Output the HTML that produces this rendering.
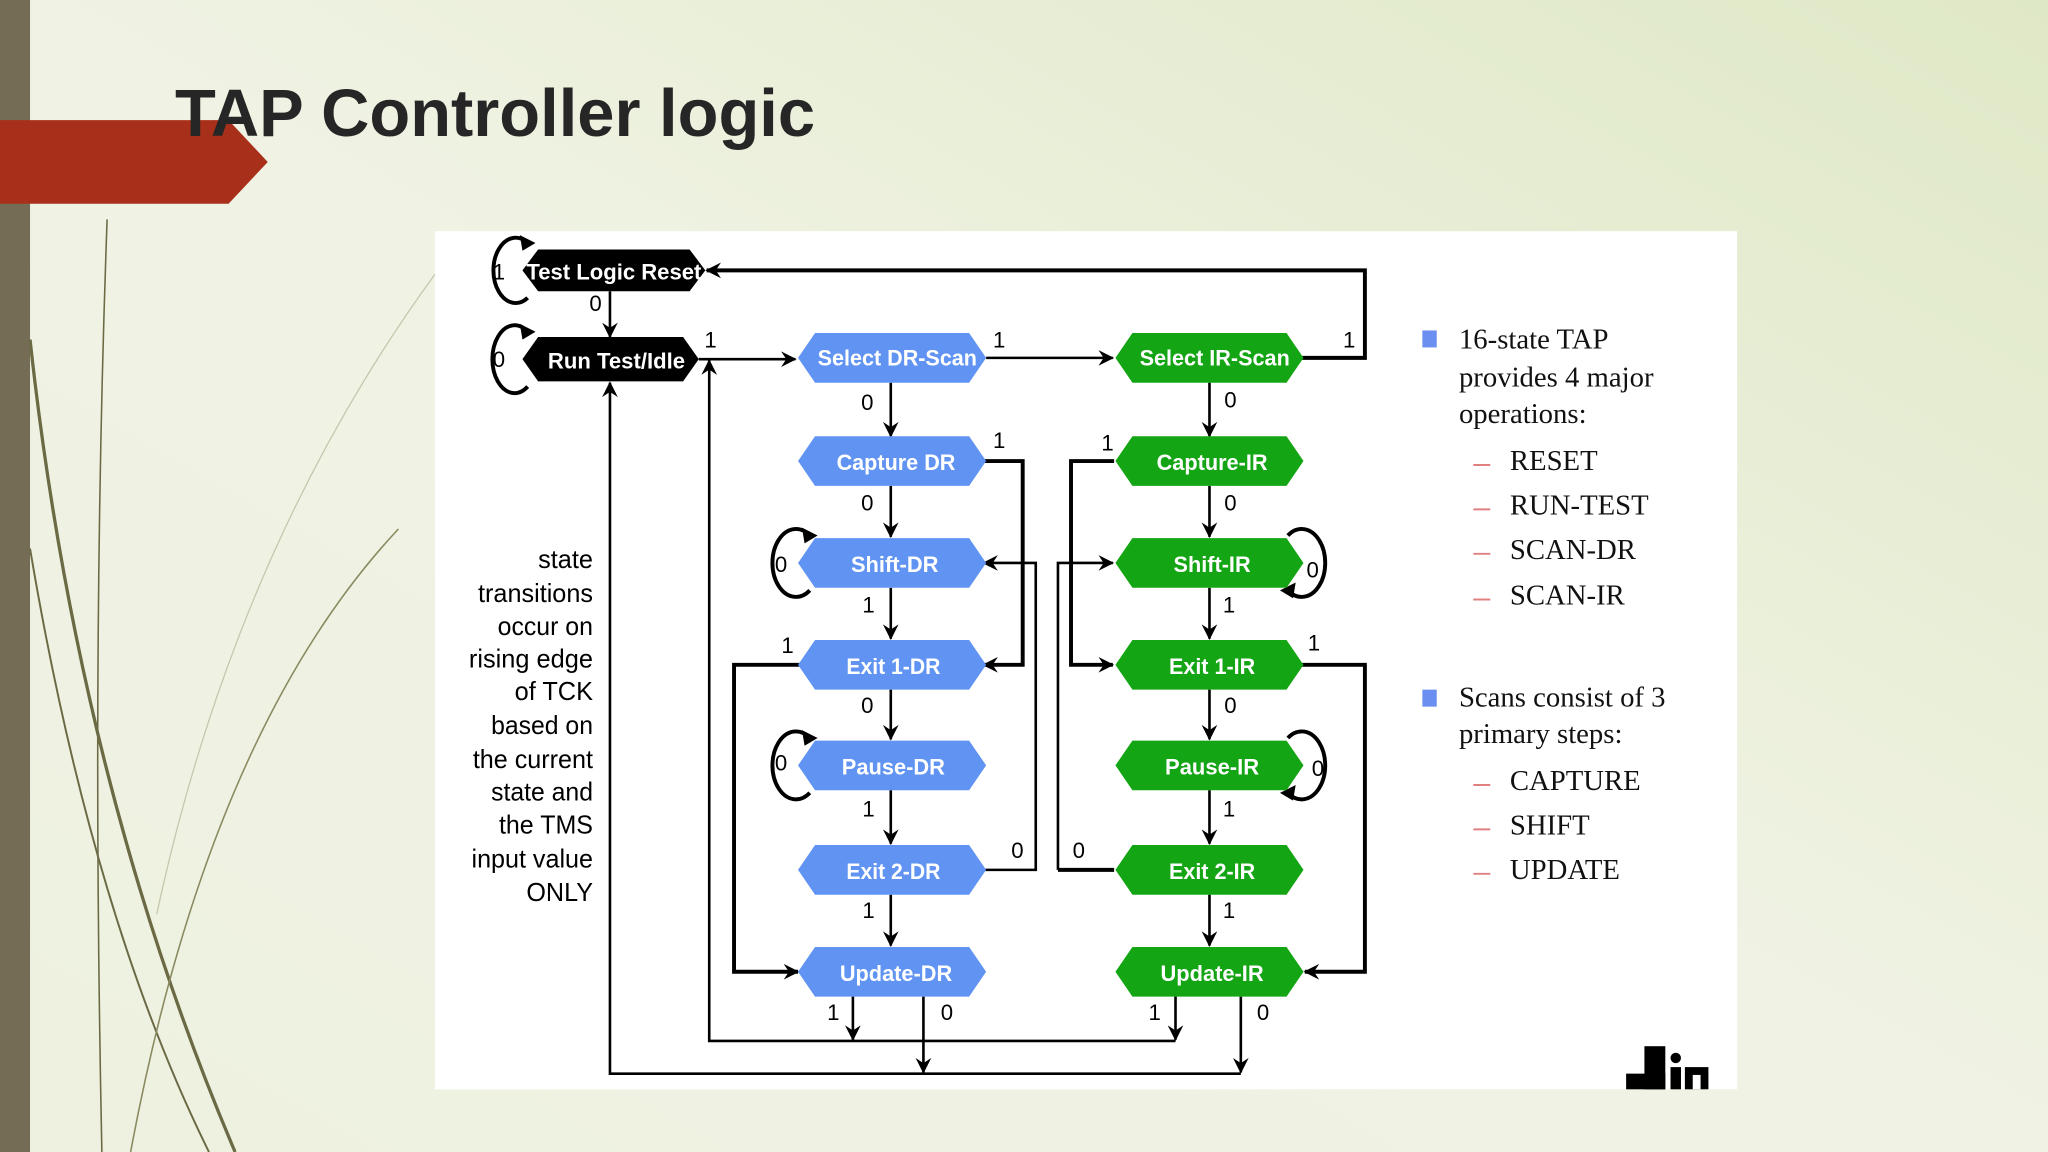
<!DOCTYPE html>
<html><head><meta charset="utf-8"><style>
html,body{margin:0;padding:0;width:2048px;height:1152px;overflow:hidden}
svg{display:block}
.st{font-family:"Liberation Sans",sans-serif;font-weight:bold;fill:#fff;font-size:17px;text-anchor:middle}
.lb{font-family:"Liberation Sans",sans-serif;font-size:17px;fill:#000;text-anchor:middle}
.lt{font-family:"Liberation Sans",sans-serif;font-size:20px;fill:#000;text-anchor:end}
.rt{font-family:"Liberation Serif",serif;font-size:22px;fill:#111}
.ln{stroke:#000;stroke-width:2;fill:none}
.lw{stroke:#000;stroke-width:3;fill:none}
</style></head><body>
<svg width="2048" height="1152" viewBox="0 0 1568 882" xmlns="http://www.w3.org/2000/svg">
<defs>
<linearGradient id="bg" x1="0" y1="1" x2="1" y2="0">
<stop offset="0" stop-color="#eef1e0"/><stop offset="0.5" stop-color="#f0f3e4"/><stop offset="1" stop-color="#dfe8c6"/>
</linearGradient>
<marker id="a" viewBox="0 0 12 12" refX="11" refY="6" markerWidth="12" markerHeight="12" markerUnits="userSpaceOnUse" orient="auto">
<path d="M0,0 L12,6 L0,12 L4,6 Z" fill="#000"/>
</marker>
</defs>
<rect width="1568" height="882" fill="url(#bg)"/>
<rect x="0" y="0" width="23" height="882" fill="#756c55"/>
<g fill="none" stroke="#6b6a45" stroke-width="1.2">
<path d="M82,168 Q70,500 78,882"/>
<path d="M23,260 Q60,600 180,882" stroke-width="2.5"/>
<path d="M23,420 Q70,700 160,882" stroke-width="1.5"/>
<path d="M305,405 Q160,560 100,882" stroke="#8a8a60"/>
<path d="M333,210 Q180,420 120,700" stroke="#c5c8ad" stroke-width="1"/>
</g>
<polygon points="0,92 175,92 205,124 175,156 0,156" fill="#a8301a"/>
<text x="134" y="104" font-family="'Liberation Sans',sans-serif" font-weight="bold" font-size="51" fill="#262626" textLength="490" lengthAdjust="spacingAndGlyphs">TAP Controller logic</text>
<rect x="333" y="177" width="997" height="657" fill="#fff"/>

<g class="ln">
<line x1="467" y1="223" x2="467" y2="258" marker-end="url(#a)"/>
<line x1="535" y1="275" x2="609" y2="275" marker-end="url(#a)"/>
<line x1="755" y1="274" x2="852" y2="274" marker-end="url(#a)"/>
<line x1="682" y1="293" x2="682" y2="334" marker-end="url(#a)"/>
<line x1="682" y1="372" x2="682" y2="411" marker-end="url(#a)"/>
<line x1="682" y1="450" x2="682" y2="489" marker-end="url(#a)"/>
<line x1="682" y1="528" x2="682" y2="566" marker-end="url(#a)"/>
<line x1="682" y1="605" x2="682" y2="646" marker-end="url(#a)"/>
<line x1="682" y1="685" x2="682" y2="724" marker-end="url(#a)"/>
<line x1="926" y1="293" x2="926" y2="334" marker-end="url(#a)"/>
<line x1="926" y1="372" x2="926" y2="411" marker-end="url(#a)"/>
<line x1="926" y1="450" x2="926" y2="489" marker-end="url(#a)"/>
<line x1="926" y1="528" x2="926" y2="566" marker-end="url(#a)"/>
<line x1="926" y1="605" x2="926" y2="646" marker-end="url(#a)"/>
<line x1="926" y1="685" x2="926" y2="724" marker-end="url(#a)"/>
<line x1="653" y1="763" x2="653" y2="796" marker-end="url(#a)"/>
<line x1="707" y1="763" x2="707" y2="821" marker-end="url(#a)"/>
<line x1="900" y1="763" x2="900" y2="796" marker-end="url(#a)"/>
<line x1="950" y1="763" x2="950" y2="821" marker-end="url(#a)"/>
<polyline points="900,797 543,797 543,276" marker-end="url(#a)"/>
<polyline points="950,822 467,822 467,293" marker-end="url(#a)"/>
<polyline points="752,666 793,666 793,431 753,431" marker-end="url(#a)"/>
<polyline points="810,666 810,431 852,431" marker-end="url(#a)"/>
</g>
<g class="lw">
<polyline points="997,274 1045,274 1045,207 541,207" marker-end="url(#a)"/>
<polyline points="752,353 783,353 783,509 753,509" marker-end="url(#a)"/>
<polyline points="612,509 562,509 562,744 611,744" marker-end="url(#a)"/>
<polyline points="853,353 820,353 820,509 852,509" marker-end="url(#a)"/>
<line x1="853" y1="666" x2="810" y2="666"/>
<polyline points="997,509 1045,509 1045,744 999,744" marker-end="url(#a)"/>
<!-- self loops -->
<path d="M404,186 A17,25 0 1 0 404,228"/>
<path d="M404,254 A17,26 0 1 0 404,296"/>
<path d="M620,410 A18,26 0 1 0 620,452"/>
<path d="M620,565 A18,26 0 1 0 620,607"/>
<path d="M986,410 A18,26 0 1 1 986,452"/>
<path d="M986,565 A18,26 0 1 1 986,607"/>
</g>
<g fill="#000">
<polygon points="398,180 410,186 400,192"/>
<polygon points="398,248 410,254 400,260"/>
<polygon points="614,404 626,410 616,416"/>
<polygon points="614,559 626,565 616,571"/>
<polygon points="992,446 980,452 990,458"/>
<polygon points="992,601 980,607 990,613"/>
</g>

<polygon points="412,191 528,191 540,207 528,223 412,223 400,207" fill="#000"/>
<text class="st" x="470" y="214" textLength="134" lengthAdjust="spacingAndGlyphs">Test Logic Reset</text>
<polygon points="412,258 523,258 535,275 523,292 412,292 400,275" fill="#000"/>
<text class="st" x="472" y="282" textLength="105" lengthAdjust="spacingAndGlyphs">Run Test/Idle</text>
<g fill="#6194f2">
<polygon points="624,255 742,255 755,274 742,293 624,293 611,274"/>
<polygon points="624,334 742,334 755,353 742,372 624,372 611,353"/>
<polygon points="624,412 742,412 755,431 742,450 624,450 611,431"/>
<polygon points="624,490 742,490 755,509 742,528 624,528 611,509"/>
<polygon points="624,567 742,567 755,586 742,605 624,605 611,586"/>
<polygon points="624,647 742,647 755,666 742,685 624,685 611,666"/>
<polygon points="624,725 742,725 755,744 742,763 624,763 611,744"/>
</g>
<g fill="#14a514">
<polygon points="867,255 985,255 998,274 985,293 867,293 854,274"/>
<polygon points="867,334 985,334 998,353 985,372 867,372 854,353"/>
<polygon points="867,412 985,412 998,431 985,450 867,450 854,431"/>
<polygon points="867,490 985,490 998,509 985,528 867,528 854,509"/>
<polygon points="867,567 985,567 998,586 985,605 867,605 854,586"/>
<polygon points="867,647 985,647 998,666 985,685 867,685 854,666"/>
<polygon points="867,725 985,725 998,744 985,763 867,763 854,744"/>
</g>
<g class="st">
<text x="687" y="280" textLength="122" lengthAdjust="spacingAndGlyphs">Select DR-Scan</text>
<text x="686" y="360" textLength="91" lengthAdjust="spacingAndGlyphs">Capture DR</text>
<text x="685" y="438" textLength="67" lengthAdjust="spacingAndGlyphs">Shift-DR</text>
<text x="684" y="516" textLength="72" lengthAdjust="spacingAndGlyphs">Exit 1-DR</text>
<text x="684" y="593" textLength="79" lengthAdjust="spacingAndGlyphs">Pause-DR</text>
<text x="684" y="673" textLength="72" lengthAdjust="spacingAndGlyphs">Exit 2-DR</text>
<text x="686" y="751" textLength="86" lengthAdjust="spacingAndGlyphs">Update-DR</text>
<text x="930" y="280" textLength="115" lengthAdjust="spacingAndGlyphs">Select IR-Scan</text>
<text x="928" y="360" textLength="85" lengthAdjust="spacingAndGlyphs">Capture-IR</text>
<text x="928" y="438" textLength="59" lengthAdjust="spacingAndGlyphs">Shift-IR</text>
<text x="928" y="516" textLength="66" lengthAdjust="spacingAndGlyphs">Exit 1-IR</text>
<text x="928" y="593" textLength="72" lengthAdjust="spacingAndGlyphs">Pause-IR</text>
<text x="928" y="673" textLength="66" lengthAdjust="spacingAndGlyphs">Exit 2-IR</text>
<text x="928" y="751" textLength="79" lengthAdjust="spacingAndGlyphs">Update-IR</text>
</g>
<g class="lb">
<text x="382" y="214">1</text><text x="456" y="238">0</text>
<text x="382" y="281">0</text><text x="544" y="266">1</text>
<text x="765" y="266">1</text><text x="1033" y="266">1</text>
<text x="664" y="314">0</text><text x="942" y="312">0</text>
<text x="765" y="343">1</text><text x="848" y="345">1</text>
<text x="664" y="391">0</text><text x="942" y="391">0</text>
<text x="598" y="438">0</text><text x="1005" y="442">0</text>
<text x="665" y="469">1</text><text x="941" y="469">1</text>
<text x="603" y="500">1</text><text x="1006" y="498">1</text>
<text x="664" y="546">0</text><text x="942" y="546">0</text>
<text x="598" y="590">0</text><text x="1009" y="594">0</text>
<text x="665" y="625">1</text><text x="941" y="625">1</text>
<text x="779" y="657">0</text><text x="826" y="657">0</text>
<text x="665" y="703">1</text><text x="941" y="703">1</text>
<text x="638" y="781">1</text><text x="725" y="781">0</text>
<text x="884" y="781">1</text><text x="967" y="781">0</text>
</g>
<g class="lt" lengthAdjust="spacingAndGlyphs">
<text x="454" y="435" textLength="42" lengthAdjust="spacingAndGlyphs">state</text>
<text x="454" y="461" textLength="88" lengthAdjust="spacingAndGlyphs">transitions</text>
<text x="454" y="486" textLength="73" lengthAdjust="spacingAndGlyphs">occur on</text>
<text x="454" y="511" textLength="95" lengthAdjust="spacingAndGlyphs">rising edge</text>
<text x="454" y="536" textLength="60" lengthAdjust="spacingAndGlyphs">of TCK</text>
<text x="454" y="562" textLength="78" lengthAdjust="spacingAndGlyphs">based on</text>
<text x="454" y="588" textLength="92" lengthAdjust="spacingAndGlyphs">the current</text>
<text x="454" y="613" textLength="78" lengthAdjust="spacingAndGlyphs">state and</text>
<text x="454" y="638" textLength="72" lengthAdjust="spacingAndGlyphs">the TMS</text>
<text x="454" y="664" textLength="93" lengthAdjust="spacingAndGlyphs">input value</text>
<text x="454" y="690" textLength="51" lengthAdjust="spacingAndGlyphs">ONLY</text>
</g>
<rect x="1089" y="253" width="11" height="13" fill="#6b8ff0"/>
<rect x="1089" y="528" width="11" height="13" fill="#6b8ff0"/>
<g class="rt">
<text x="1117" y="267">16-state TAP</text><text x="1117" y="296">provides 4 major</text><text x="1117" y="324">operations:</text>
<text x="1156" y="360">RESET</text><text x="1156" y="394">RUN-TEST</text><text x="1156" y="428">SCAN-DR</text><text x="1156" y="463">SCAN-IR</text>
<text x="1117" y="541">Scans consist of 3</text><text x="1117" y="569">primary steps:</text>
<text x="1156" y="605">CAPTURE</text><text x="1156" y="639">SHIFT</text><text x="1156" y="673">UPDATE</text>
</g>
<g stroke="#e08080" stroke-width="1.5">
<line x1="1128" y1="356" x2="1141" y2="356"/><line x1="1128" y1="390" x2="1141" y2="390"/>
<line x1="1128" y1="424" x2="1141" y2="424"/><line x1="1128" y1="459" x2="1141" y2="459"/>
<line x1="1128" y1="601" x2="1141" y2="601"/><line x1="1128" y1="635" x2="1141" y2="635"/>
<line x1="1128" y1="669" x2="1141" y2="669"/>
</g>
<g fill="#000">
<rect x="1259" y="801" width="16" height="33"/>
<rect x="1245" y="822" width="30" height="12"/>
<rect x="1279" y="817" width="8" height="17"/>
<circle cx="1283" cy="810" r="4"/>
<rect x="1290" y="817" width="18" height="17"/>
</g>
<rect x="1296" y="823" width="6" height="11" fill="#fff"/>
</svg>
</body></html>
